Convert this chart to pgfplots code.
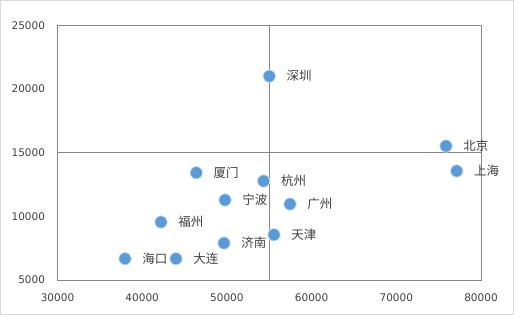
\documentclass[border=0pt]{standalone}
\usepackage{fontspec}
\setmainfont{DejaVu Sans}
\newfontfamily\cjk{Noto Sans CJK SC}
\usepackage{pgfplots}
\pgfplotsset{compat=1.18}
\definecolor{pt}{HTML}{5B9BD5}
\definecolor{frm}{HTML}{868686}
\definecolor{brd}{HTML}{D9D9D9}
\definecolor{txt}{HTML}{404040}
\begin{document}
\begin{tikzpicture}
\path[use as bounding box] (0,0) rectangle (514bp,315bp);
\draw[brd, line width=1bp] (0.5bp,0.5bp) rectangle (513.5bp,314.5bp);
\begin{axis}[at={(57.5bp,35bp)}, anchor=south west, scale only axis,
  width=423.5bp, height=254.7bp,
  xmin=30000, xmax=80000, ymin=5000, ymax=25000,
  scaled ticks=false,
  xtick={30000,40000,50000,60000,70000,80000},
  xticklabels={30000,40000,50000,60000,70000,80000},
  ytick={5000,10000,15000,20000,25000},
  yticklabels={5000,10000,15000,20000,25000},
  major tick length=0pt,
  tick label style={font=\fontsize{10.5bp}{12bp}\selectfont, text=txt},
  xticklabel style={yshift=-10bp},
  yticklabel style={xshift=-9bp},
  axis line style={frm, line width=0.8bp},
  clip=false]
\draw[frm, line width=0.8bp] (axis cs:55000,5000) -- (axis cs:55000,25000);
\draw[frm, line width=0.8bp] (axis cs:30000,15000) -- (axis cs:80000,15000);
\addplot[only marks, mark=*, mark size=6.2bp,
  mark options={fill=pt, draw=pt!35, line width=0.8bp},
  nodes near coords, point meta=explicit symbolic,
  every node near coord/.append style={anchor=west, inner sep=0pt, xshift=17bp,
    font=\cjk\fontsize{12.5bp}{14bp}\selectfont, text=txt}]
  table[meta=label] {
x y label
55000 21000 深圳
75870 15520 北京
77130 13560 上海
54340 12770 杭州
57450 10960 广州
55560 8550 天津
46390 13420 厦门
49780 11280 宁波
42220 9550 福州
49660 7900 济南
37970 6670 海口
43990 6670 大连
};
\end{axis}
\end{tikzpicture}
\end{document}
